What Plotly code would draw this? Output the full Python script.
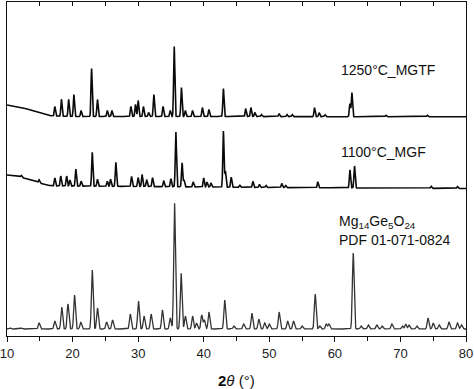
import numpy as np
import plotly.graph_objects as go

# ---------------- data ----------------
# 2theta tick labels
tick_vals = [10, 20, 30, 40, 50, 60, 70, 80]
tick_text = ["10", "20", "30", "40", "50", "60", "70", "80"]

# 1250°C_MGTF pattern (offset intensity, arbitrary units)
mgtf_base_x = [10, 12, 14, 16, 17, 20, 40, 60, 80]
mgtf_base_y = [231, 229, 225, 221, 220, 219.5, 219.5, 219.3, 219.2]
mgtf_pos = [17.3, 18.3, 19.4, 20.2, 21.3, 22.9, 23.8, 25.3, 26.0, 28.9, 29.6, 30.0,
            30.8, 31.6, 32.4, 33.8, 34.9, 35.5, 36.6, 37.2, 38.3, 39.8, 40.8, 43.0,
            46.4, 47.2, 47.8, 48.8, 51.5, 52.7, 53.5, 56.9, 57.6, 58.5, 62.3, 62.6,
            67.8, 74.1]
mgtf_int = [9.5, 17, 17, 22, 6, 48, 17, 6, 6, 10, 12, 16,
            10, 4, 22, 10, 6, 70, 29, 6, 6, 9, 7, 28,
            8, 9, 4, 2, 3, 2, 2, 9, 4, 2, 13, 24,
            1.5, 1.5]

# 1100°C_MGF pattern
mgf_base_x = [10, 12, 14, 16, 17, 30, 50, 80]
mgf_base_y = [161, 159, 155, 151, 150, 149.5, 148.5, 147.5]
mgf_pos = [12.2, 14.9, 17.3, 18.2, 19.1, 19.6, 20.5, 21.3, 23.0, 23.8, 25.3, 25.8,
           26.6, 29.0, 30.0, 30.6, 31.3, 32.2, 33.9, 35.0, 35.75, 36.7, 37.0, 38.4,
           40.0, 40.5, 41.1, 43.0, 43.3, 44.2, 45.5, 47.5, 48.5, 49.5, 51.9, 52.5,
           57.4, 62.3, 63.0, 74.7, 78.7]
mgf_int = [2, 3, 8, 10, 10, 6, 17, 5, 34, 7, 5, 7,
           24, 10, 9, 12, 7, 9, 6, 8, 55, 24, 7, 5,
           9, 5, 4, 56, 16, 10, 2, 6, 3, 2, 4, 2,
           6, 18, 22, 2, 2]

# Mg14Ge5O24 reference pattern (PDF 01-071-0824)
ref_base_x = [10, 80]
ref_base_y = [7, 7]
ref_pos = [10.5, 12.2, 14.9, 17.3, 18.35, 19.3, 20.3, 21.25, 23.0, 23.8, 25.2, 26.1,
           28.8, 30.05, 30.9, 31.98, 33.7, 34.9, 35.55, 36.55, 37.2, 38.3, 38.9, 39.7,
           40.1, 40.8, 43.2, 44.6, 46.1, 47.35, 48.4, 49.3, 50.0, 51.5, 52.8, 53.7,
           55.0, 57.0, 57.7, 58.7, 59.1, 62.8, 64.0, 65.1, 66.4, 67.2, 68.7, 70.3,
           70.8, 71.3, 72.5, 74.2, 75.0, 75.9, 77.4, 78.7, 79.3]
ref_int = [1, 1, 6, 8, 22, 25, 34, 7, 59, 21, 7, 9,
           15, 28, 13, 15, 19, 11, 126, 56, 13, 13, 6, 14,
           9, 17, 29, 3, 5, 16, 10, 6, 5, 17, 8, 8,
           3, 35, 3, 5, 5, 76, 3, 4, 4, 3, 5, 3,
           5, 4, 3, 11, 6, 4, 7, 6, 4]

labels = ["1250°C_MGTF", "1100°C_MGF",
          "Mg<sub>14</sub>Ge<sub>5</sub>O<sub>24</sub>", "PDF 01-071-0824"]
x_title = "<b>2</b><i>θ</i> (°)"

# ---------------- rendering ----------------
grid = np.arange(10, 80.001, 0.02)


def profile(bx, by, pos, inten, sigma):
    y = np.interp(grid, bx, by)
    for p, h in zip(pos, inten):
        y = y + h * np.exp(-0.5 * ((grid - p) / sigma) ** 2)
    return y


fig = go.Figure()
fig.add_trace(go.Scatter(x=grid, y=profile(ref_base_x, ref_base_y, ref_pos, ref_int, 0.13),
                         mode="lines", line=dict(color="#333333", width=1.3),
                         showlegend=False, hoverinfo="skip"))
fig.add_trace(go.Scatter(x=grid, y=profile(mgf_base_x, mgf_base_y, mgf_pos, mgf_int, 0.09),
                         mode="lines", line=dict(color="#0a0a0a", width=1.6),
                         showlegend=False, hoverinfo="skip"))
fig.add_trace(go.Scatter(x=grid, y=profile(mgtf_base_x, mgtf_base_y, mgtf_pos, mgtf_int, 0.09),
                         mode="lines", line=dict(color="#0a0a0a", width=1.6),
                         showlegend=False, hoverinfo="skip"))
# invisible trace to activate the top axis
fig.add_trace(go.Scatter(x=[10, 80], y=[0, 0], xaxis="x2", mode="lines",
                         line=dict(width=0), showlegend=False, hoverinfo="skip"))

font_txt = dict(family="Liberation Sans, Arial, sans-serif", size=14, color="#111111")
fig.add_annotation(x=60.7, y=266, text=labels[0], showarrow=False, xanchor="left",
                   yanchor="middle", font=font_txt)
fig.add_annotation(x=60.7, y=184, text=labels[1], showarrow=False, xanchor="left",
                   yanchor="middle", font=font_txt)
fig.add_annotation(x=60.4, y=114, text=labels[2], showarrow=False, xanchor="left",
                   yanchor="middle", font=font_txt)
fig.add_annotation(x=60.4, y=96, text=labels[3], showarrow=False, xanchor="left",
                   yanchor="middle", font=font_txt)
# axis title as a paper-anchored annotation
fig.add_annotation(x=0.5, xref="paper", y=-0.132, yref="paper", text=x_title,
                   showarrow=False, xanchor="center", yanchor="middle",
                   font=dict(family="Liberation Sans, Arial, sans-serif", size=15,
                             color="#111111"))

fig.update_layout(
    width=474, height=389,
    margin=dict(l=7, r=8, t=2, b=53, autoexpand=False),
    paper_bgcolor="white", plot_bgcolor="white",
    font=dict(family="Liberation Sans, Arial, sans-serif", color="#111111"),
    xaxis=dict(range=[10, 80], tickvals=tick_vals, ticktext=tick_text,
               ticks="outside", ticklen=5, tickwidth=1, tickcolor="#111111",
               minor=dict(dtick=5, tick0=10, ticks="outside", ticklen=4, tickcolor="#111111"),
               showline=True, linecolor="#111111", linewidth=1.2,
               showgrid=False, zeroline=False, automargin=False,
               ticklabeloverflow="allow",
               tickfont=dict(family="Liberation Sans, Arial, sans-serif", size=13,
                             color="#222222")),
    xaxis2=dict(range=[10, 80], overlaying="x", side="top", anchor="y", dtick=5, tick0=10,
                ticks="inside", ticklen=4, tickcolor="#111111", showticklabels=False,
                showline=True, linecolor="#111111", linewidth=1.2,
                showgrid=False, zeroline=False, automargin=False),
    yaxis=dict(range=[0, 334], showline=True, mirror=True, linecolor="#111111",
               linewidth=1.2, showticklabels=False, ticks="", showgrid=False,
               zeroline=False, automargin=False),
)

fig.write_html("out.html", config={"displayModeBar": False},
               post_script="document.body.style.margin='0';document.body.style.padding='0';")
